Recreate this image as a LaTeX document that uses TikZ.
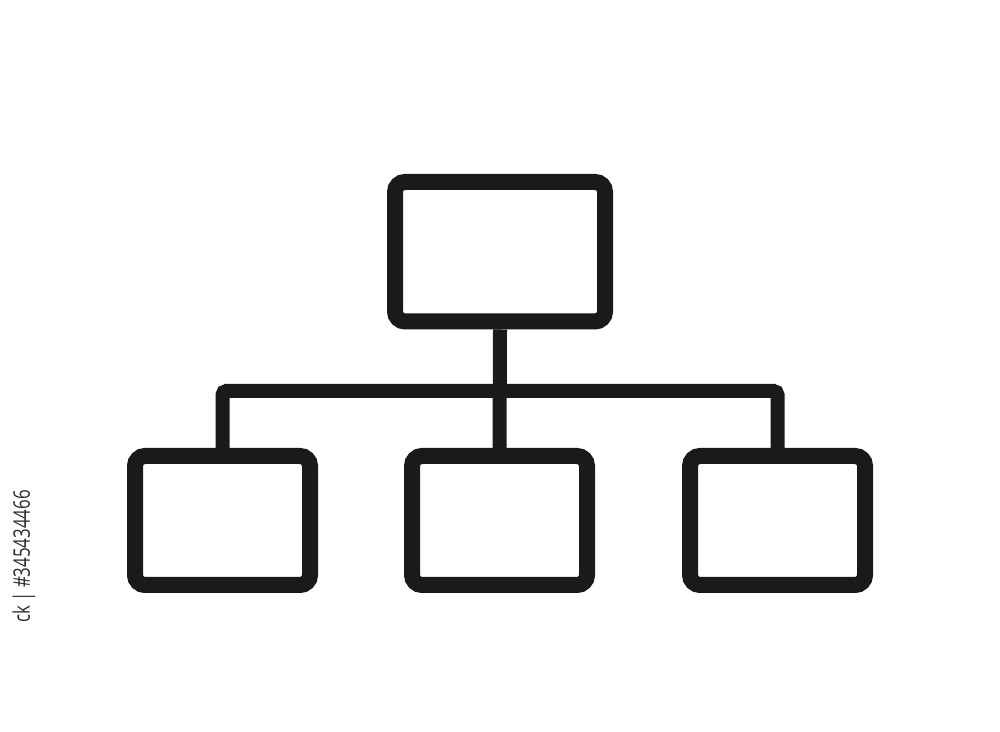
\documentclass[tikz,border=0pt]{standalone}
\usepackage{fontspec}
\setsansfont{Open Sans}
\definecolor{ink}{HTML}{1A1A1A}
\definecolor{wm}{HTML}{2E2E2E}
\begin{document}
\begin{tikzpicture}[
  box/.style={draw=ink, line width=0.16cm, rounded corners=0.1cm, inner sep=0pt},
  topbox/.style={box, minimum width=2.1cm, minimum height=1.395cm},
  subbox/.style={box, minimum width=1.75cm, minimum height=1.29cm},
  link/.style={draw=ink, line width=0.14cm, rounded corners=0.04cm},
  idtext/.style={text=wm, font=\sffamily\fontsize{6.5pt}{7pt}\selectfont, rotate=90, inner sep=0pt}
]
\useasboundingbox[fill=white] (0,0) rectangle (10,7.31);
\node[topbox] (top) at (5.0,4.7925) {};
\node[subbox] (left) at (2.225,2.105) {};
\node[subbox] (mid) at (4.995,2.105) {};
\node[subbox] (right) at (7.775,2.105) {};
\coordinate (bus) at (5.0,3.40);
\draw[link] (top.south) -- (mid.north);
\draw[link] (left.north) |- (bus) -| (right.north);
\node[idtext] (id) at (0.24,1.745) {\scalebox{0.74}[1]{ck | \#345434466}};
\end{tikzpicture}
\end{document}
